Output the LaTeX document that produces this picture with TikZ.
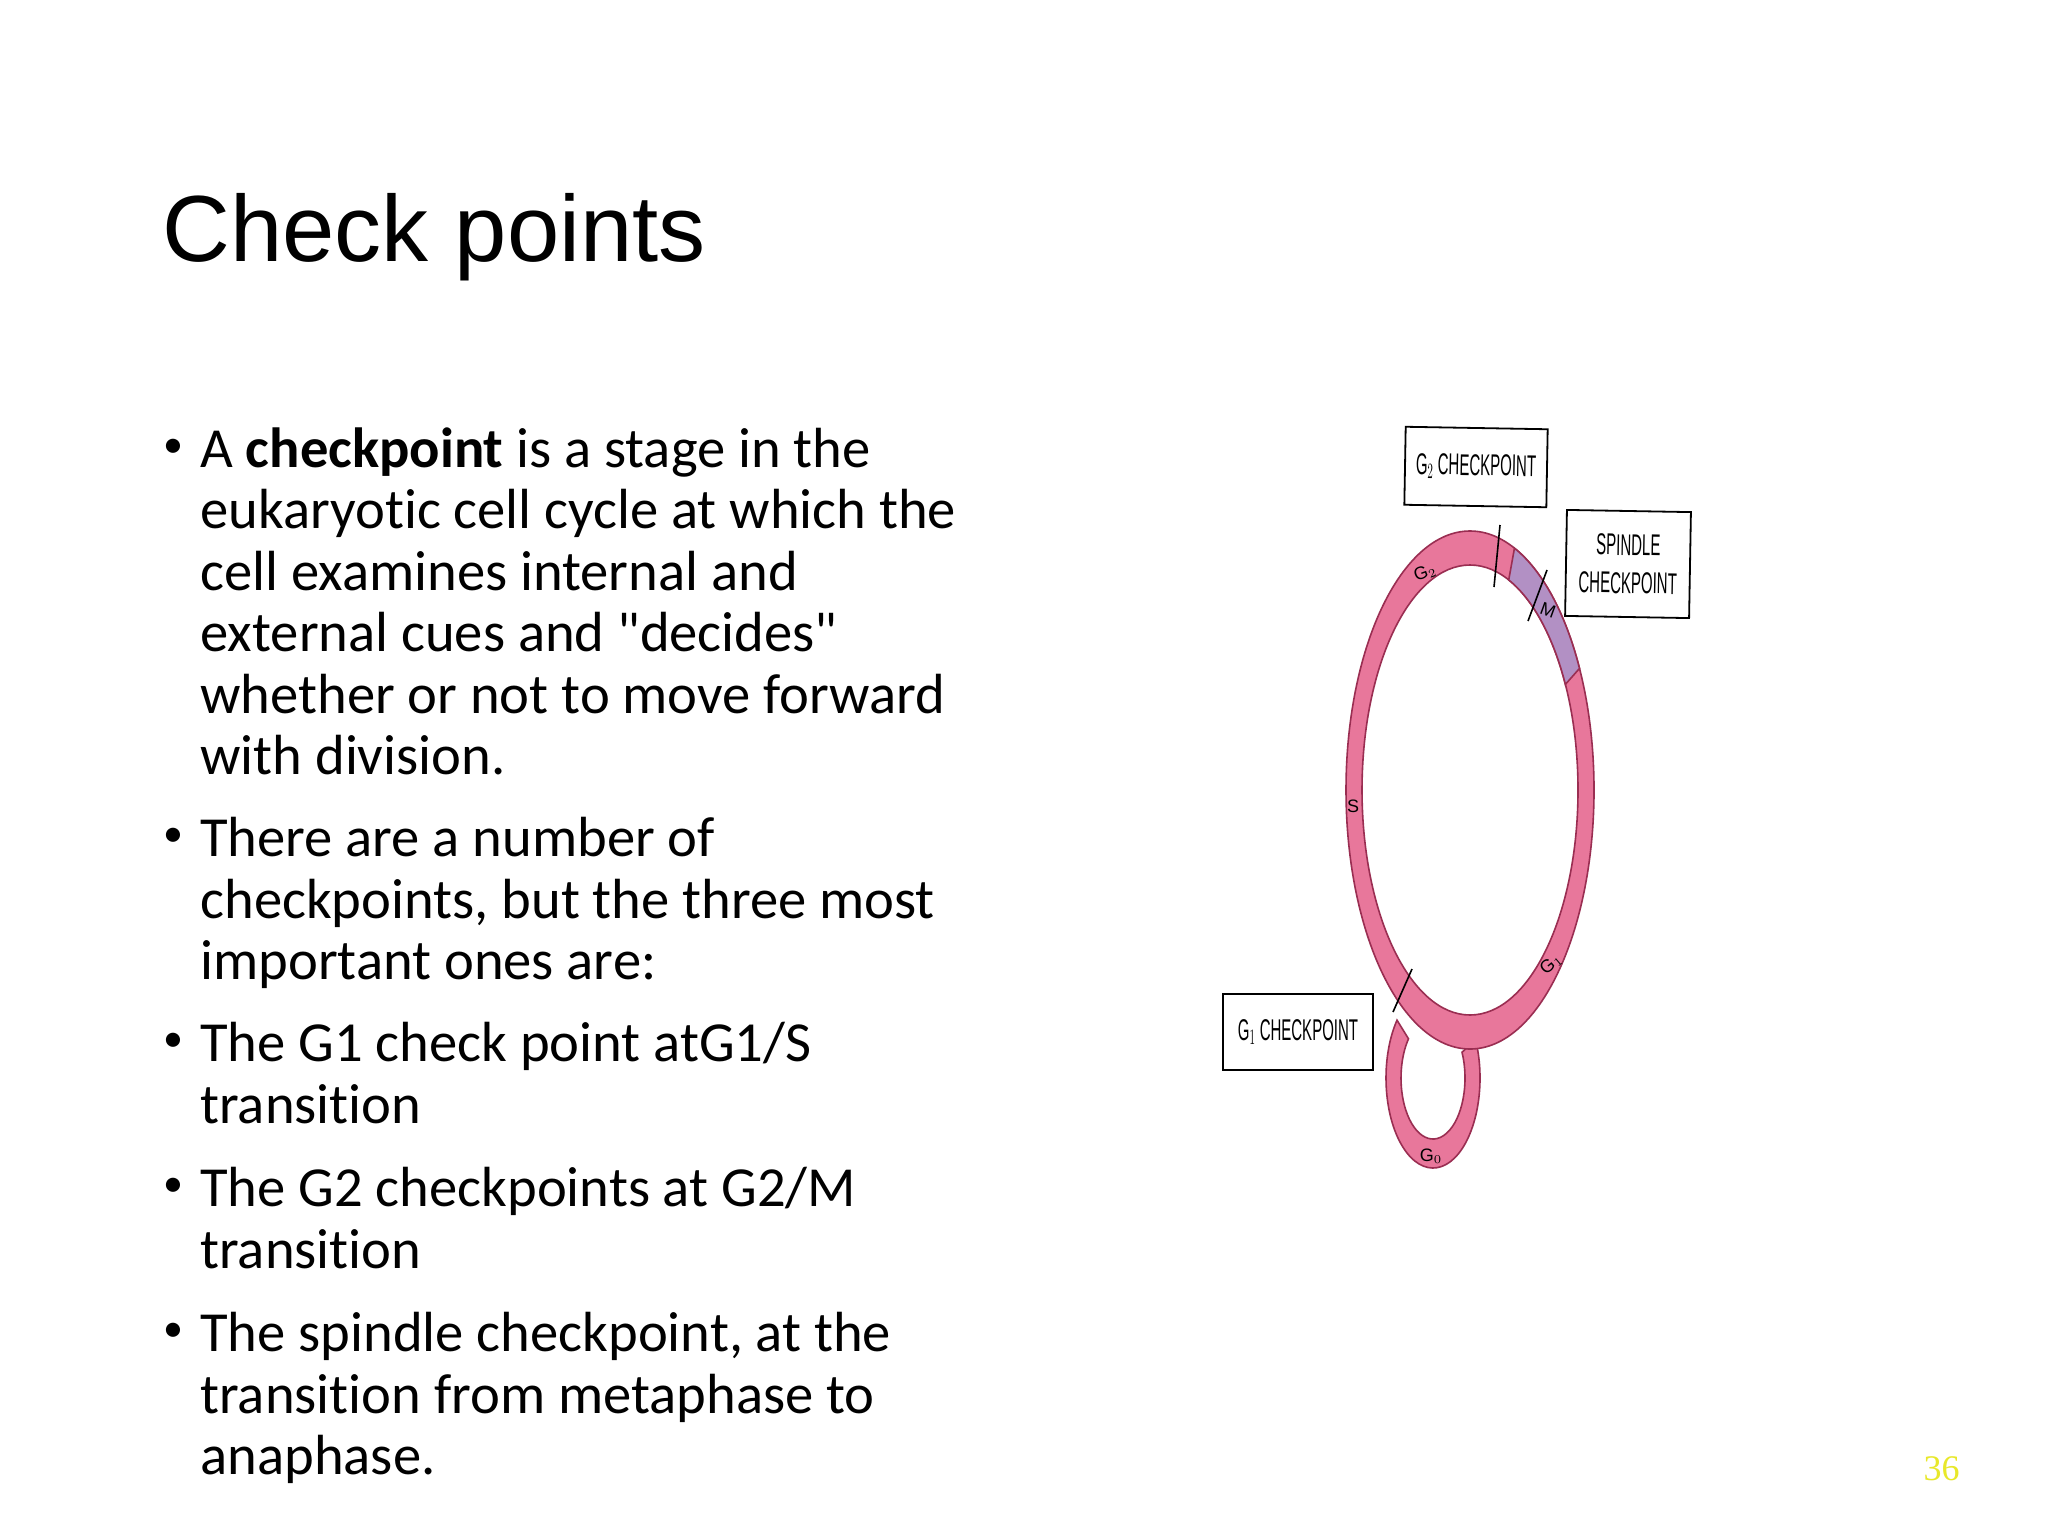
\documentclass[tikz,border=0pt]{standalone}
\usepackage{fontspec}
\setmainfont{Carlito}[Ligatures={NoCommon,TeXOff}]
\newfontfamily\titlefont{Liberation Sans}
\newfontfamily\handfont{Liberation Sans}
\newfontfamily\numfont{Liberation Serif}
\usetikzlibrary{calc}
\definecolor{ringpink}{HTML}{E8779B}
\definecolor{ringedge}{HTML}{9A2E52}
\definecolor{mpurple}{HTML}{B290C4}
\definecolor{pageyellow}{HTML}{E8E82A}
\tikzset{
  bodyline/.style={anchor=base west,inner sep=0pt,font=\fontsize{28.3}{32}\selectfont},
  bulletmark/.style={anchor=base west,inner sep=0pt,font=\fontsize{20}{24}\selectfont},
  cpbox/.style={draw=black,line width=0.9pt,fill=white,inner sep=0pt,align=center,font=\handfont\fontsize{15}{19}\selectfont},
  phase/.style={inner sep=0pt,font=\handfont\fontsize{9}{10}\selectfont},
  ringband/.style={fill=ringpink,draw=ringedge,line width=0.8pt},
  tick/.style={draw=black,line width=0.8pt}
}
\begin{document}
\begin{tikzpicture}[x=0.5pt,y=-0.5pt]
\useasboundingbox (0,0) rectangle (2048,1536);
\fill[white] (0,0) rectangle (2048,1536);
% title
\node[anchor=base west,inner sep=0pt,font=\titlefont\fontsize{47}{50}\selectfont] (title) at (162,261) {Check points};
% bullets
\node[bulletmark] (b1) at (163,457) {•};
\node[bulletmark] (b2) at (163,846) {•};
\node[bulletmark] (b3) at (163,1051) {•};
\node[bulletmark] (b4) at (163,1196) {•};
\node[bulletmark] (b5) at (163,1341) {•};
\node[bodyline] (l1) at (200,467.6) {A \textbf{checkpoint} is a stage in the};
\node[bodyline] (l2) at (200,528.9) {eukaryotic cell cycle at which the};
\node[bodyline] (l3) at (200,590.3) {cell examines internal and};
\node[bodyline] (l4) at (200,651.7) {external cues and "decides"};
\node[bodyline] (l5) at (200,713.1) {whether or not to move forward};
\node[bodyline] (l6) at (200,774.5) {with division.};
\node[bodyline] (l7) at (200,856.8) {There are a number of};
\node[bodyline] (l8) at (200,918.2) {checkpoints, but the three most};
\node[bodyline] (l9) at (200,979.5) {important ones are:};
\node[bodyline] (l10) at (200,1061.8) {The G1 check point atG1/S};
\node[bodyline] (l11) at (200,1123.2) {transition};
\node[bodyline] (l12) at (200,1206.8) {The G2 checkpoints at G2/M};
\node[bodyline] (l13) at (200,1268.2) {transition};
\node[bodyline] (l14) at (200,1351.8) {The spindle checkpoint, at the};
\node[bodyline] (l15) at (200,1413.1) {transition from metaphase to};
\node[bodyline] (l16) at (200,1474.5) {anaphase.};
% page number
\node[anchor=base east,inner sep=0pt,text=pageyellow,font=\numfont\fontsize{18}{20}\selectfont] (pg) at (1960,1480) {36};
% G0 loop
\coordinate (lc) at (1433,1078);
\path[ringband] ($(lc)+(220:47 and 90)$) arc[start angle=220,end angle=-25,x radius=47,y radius=90]
  -- ($(lc)+(-25:32 and 61)$) arc[start angle=-25,end angle=220,x radius=32,y radius=61] -- cycle;
% main ring
\coordinate (rc) at (1470,790);
\path[ringband,even odd rule] (rc) ellipse[x radius=124,y radius=259] (rc) ellipse[x radius=108,y radius=225];
\path[fill=mpurple,draw=ringedge,line width=0.8pt] ($(rc)+(-69:124 and 259)$) arc[start angle=-69,end angle=-28,x radius=124,y radius=259]
  -- ($(rc)+(-28:108 and 225)$) arc[start angle=-28,end angle=-69,x radius=108,y radius=225] -- cycle;
% ticks
\coordinate (t2a) at (1500,525); \coordinate (t2b) at (1494,587);
\coordinate (tma) at (1547,570); \coordinate (tmb) at (1528,621);
\coordinate (t1a) at (1412,969); \coordinate (t1b) at (1393,1012);
\draw[tick] (t2a) -- (t2b);
\draw[tick] (tma) -- (tmb);
\draw[tick] (t1a) -- (t1b);
% phase labels
\node[phase,rotate=20] (pG2) at (1425,573) {G$_2$};
\node[phase,rotate=-20] (pM) at (1548,610) {M};
\node[phase] (pS) at (1353,806) {S};
\node[phase,rotate=40] (pG1) at (1551,964) {G$_1$};
\node[phase] (pG0) at (1431,1156) {G$_0$};
% checkpoint boxes
\node[cpbox,minimum width=71pt,minimum height=39pt,rotate=-1] (g2box) at (1476,467) {\scalebox{0.5}[1]{G$_2$ CHECKPOINT}};
\node[cpbox,minimum width=62pt,minimum height=53pt,rotate=-1] (spbox) at (1628,564) {\scalebox{0.5}[1]{SPINDLE}\\\scalebox{0.5}[1]{CHECKPOINT}};
\node[cpbox,minimum width=75pt,minimum height=38pt] (g1box) at (1298,1032) {\scalebox{0.5}[1]{G$_1$ CHECKPOINT}};
\end{tikzpicture}
\end{document}
